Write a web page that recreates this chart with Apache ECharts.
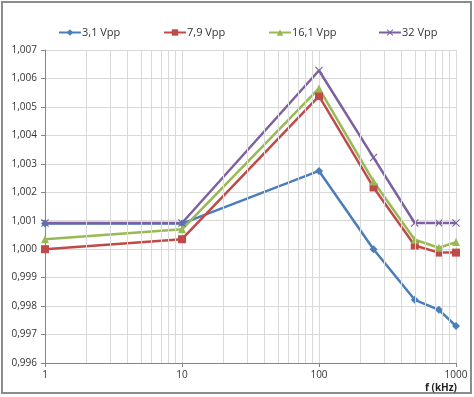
<!DOCTYPE html>
<html>
<head>
<meta charset="utf-8">
<script src="https://cdn.jsdelivr.net/npm/echarts@6/dist/echarts.min.js"></script>
<style>
html, body { margin: 0; padding: 0; background: #fff; }
#chart { width: 474px; height: 397px; }
</style>
</head>
<body>
<div id="chart"></div>
<script>
// frequencies (kHz)
var freqs = [1, 10, 100, 250, 500, 750, 1000];
var names = ['3,1 Vpp', '7,9 Vpp', '16,1 Vpp', '32 Vpp'];
var v31 = [1.0009, 1.0009, 1.00275, 1.0000, 0.99822, 0.99787, 0.99730];
var v79 = [1.0000, 1.00035, 1.00538, 1.00217, 1.00013, 0.99988, 0.99988];
var v161 = [1.00035, 1.00070, 1.00565, 1.00238, 1.00033, 1.00005, 1.00025];
var v32 = [1.00092, 1.00092, 1.00628, 1.00322, 1.00092, 1.00092, 1.00092];
var minorX = [2, 3, 4, 5, 6, 7, 8, 9, 20, 30, 40, 50, 60, 70, 80, 90, 200, 300, 400, 500, 600, 700, 800, 900];

var colors = ['#4a7ebb', '#be4b48', '#98b954', '#7d60a0'];
var symbols = ['diamond', 'rect', 'triangle',
  'path://M0,1L1,0L5,4L9,0L10,1L6,5L10,9L9,10L5,6L1,10L0,9L4,5Z'];
var symSizes = [8, 8, 8, 8];
var allVals = [v31, v79, v161, v32];

function pairs(vals) {
  var out = [];
  for (var i = 0; i < freqs.length; i++) out.push([freqs[i], vals[i]]);
  return out;
}

var series = [{
  name: 'grid',
  type: 'line',
  data: [],
  silent: true,
  z: 1,
  markLine: {
    silent: true,
    symbol: 'none',
    label: { show: false },
    lineStyle: { color: '#d9d9d9', width: 1, type: 'solid' },
    animation: false,
    data: minorX.map(function (x) { return { xAxis: x }; })
  }
}];
for (var k = 0; k < names.length; k++) {
  series.push({
    name: names[k],
    type: 'line',
    z: 3,
    data: pairs(allVals[k]),
    symbol: symbols[k],
    symbolSize: symSizes[k],
    lineStyle: { color: colors[k], width: 2.5 },
    itemStyle: { color: colors[k] }
  });
}

var legendX = [53, 158, 263, 373];
var legends = names.map(function (n, i) {
  return {
    data: [n],
    left: legendX[i],
    top: 22,
    itemWidth: 22,
    itemHeight: 8,
    itemGap: 0,
    textStyle: { fontFamily: 'Open Sans', fontSize: 11, color: '#333', padding: [0, 0, 0, -4] }
  };
});

var myChart = echarts.init(document.getElementById('chart'));
myChart.setOption({
  animation: false,
  color: colors,
  legend: legends,
  grid: { left: 45, right: 18, top: 50, bottom: 34 },
  xAxis: {
    type: 'log',
    logBase: 10,
    min: 1,
    max: 1000,
    axisLine: { lineStyle: { color: '#868686' } },
    axisTick: { show: true, length: 4, lineStyle: { color: '#868686' } },
    axisLabel: {
      color: '#333', fontFamily: 'Open Sans', fontSize: 10, margin: 7,
      formatter: function (v) { return String(Math.round(v)); }
    },
    splitLine: { show: true, lineStyle: { color: '#d9d9d9' } }
  },
  yAxis: {
    type: 'value',
    min: 0.996,
    max: 1.007,
    interval: 0.001,
    axisLine: { show: true, lineStyle: { color: '#868686' } },
    axisTick: { show: true, length: 4, lineStyle: { color: '#868686' } },
    axisLabel: {
      color: '#333', fontFamily: 'Open Sans', fontSize: 10, margin: 8,
      formatter: function (v) { return v.toFixed(3).replace('.', ','); }
    },
    splitLine: { show: true, lineStyle: { color: '#d9d9d9' } }
  },
  graphic: [{
    type: 'rect',
    shape: { x: 2, y: 2, width: 469, height: 391 },
    style: { fill: 'none', stroke: '#8c8c8c', lineWidth: 2 },
    silent: true
  }, {
    type: 'text',
    right: 17,
    bottom: 4,
    style: { text: 'f (kHz)', font: 'bold 10px "Open Sans"', fill: '#222' }
  }],
  series: series
});
</script>
</body>
</html>
